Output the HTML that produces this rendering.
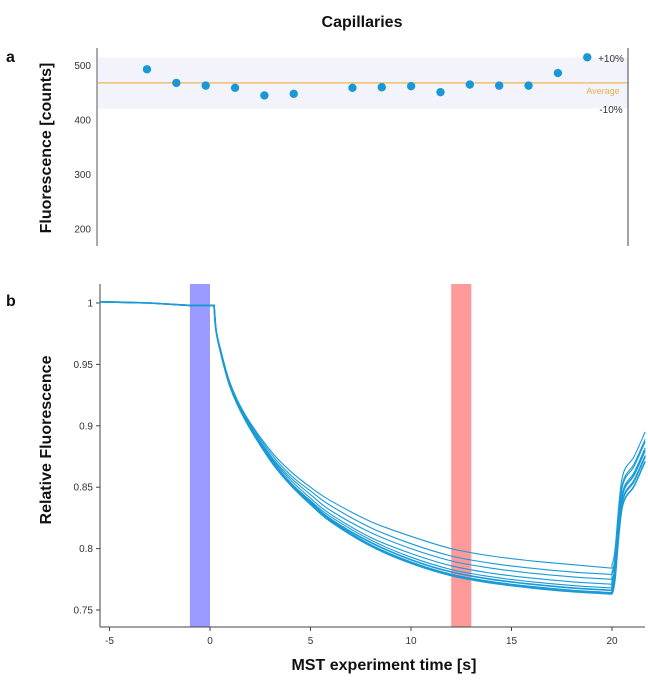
<!DOCTYPE html>
<html><head><meta charset="utf-8"><style>
body{margin:0;background:#fff;}
svg{display:block;font-family:"Liberation Sans",sans-serif;}
.tk{font-size:10px;fill:#333;font-family:"Liberation Sans Narrow","Liberation Sans",sans-serif;}
.ttl{font-size:16px;font-weight:bold;fill:#111;}
</style></head><body>
<svg id="c" width="648" height="685"></svg>
<script>
// Panel a data
const capIndex=[0,1,2,3,4,5,7,8,9,10,11,12,13,14,15];
const capValues=[494,469,464,460,446,449,460,461,463,452,466,464,464,487,516];
const capAverage=469;
const capTicks=[200,300,400,500];
// Panel b data
const timeTicks=[-5,0,5,10,15,20];
const relTicks=[0.75,0.8,0.85,0.9,0.95,1];
const preTimes=[-5.5,-3,-1,0,0.2];
const preValues=[1.001,1.0,0.998,0.998,0.998];
const decayTimes=[0.2,0.3,0.5,1,1.75,3,4,5,6,8,10,12,14,16,18,20];
const trace1=[0.998,0.978,0.962,0.932,0.905,0.872,0.852,0.836,0.822,0.802,0.788,0.778,0.772,0.768,0.765,0.763];
const trace2=[0.998,0.978,0.962,0.932,0.905,0.872,0.852,0.837,0.823,0.803,0.789,0.779,0.773,0.769,0.766,0.764];
const trace3=[0.998,0.978,0.962,0.932,0.905,0.873,0.853,0.838,0.824,0.805,0.791,0.781,0.775,0.771,0.768,0.766];
const trace4=[0.998,0.978,0.962,0.932,0.906,0.874,0.854,0.839,0.826,0.807,0.793,0.783,0.777,0.773,0.770,0.768];
const trace5=[0.998,0.978,0.962,0.933,0.906,0.875,0.856,0.841,0.828,0.809,0.796,0.786,0.780,0.776,0.773,0.771];
const trace6=[0.998,0.978,0.963,0.933,0.907,0.876,0.858,0.844,0.831,0.813,0.800,0.790,0.784,0.780,0.777,0.775];
const trace7=[0.998,0.979,0.963,0.934,0.908,0.878,0.860,0.847,0.835,0.817,0.804,0.794,0.788,0.784,0.781,0.779];
const trace8=[0.998,0.979,0.964,0.935,0.909,0.880,0.863,0.850,0.839,0.822,0.810,0.800,0.794,0.790,0.787,0.784];
const traces=[trace1,trace2,trace3,trace4,trace5,trace6,trace7,trace8];
const recTimes=[20,20.15,20.5,21.1,21.65];
const recOffsets=[0,0.012,0.07,0.088,0.108];

const NS="http://www.w3.org/2000/svg";
const svg=document.getElementById('c');
function mk(tag,attrs,parent){const e=document.createElementNS(NS,tag);for(const k in attrs)e.setAttribute(k,attrs[k]);(parent||svg).appendChild(e);return e;}
function smooth(pts){
  let d='M'+pts[0][0]+','+pts[0][1];
  for(let i=0;i<pts.length-1;i++){
    const p0=pts[Math.max(0,i-1)],p1=pts[i],p2=pts[i+1],p3=pts[Math.min(pts.length-1,i+2)];
    const c1x=p1[0]+(p2[0]-p0[0])/6,c1y=p1[1]+(p2[1]-p0[1])/6;
    const c2x=p2[0]-(p3[0]-p1[0])/6,c2y=p2[1]-(p3[1]-p1[1])/6;
    d+=' C'+c1x.toFixed(1)+','+c1y.toFixed(1)+' '+c2x.toFixed(1)+','+c2y.toFixed(1)+' '+p2[0].toFixed(1)+','+p2[1].toFixed(1);
  }
  return d;
}

// Panel a scales
const ax=i=>147+i*29.35;
const ay=v=>66+(500-v)*0.545;
let t=mk('text',{x:362,y:27,'text-anchor':'middle','class':'ttl','font-size':'15'});t.textContent='Capillaries';

t=mk('text',{x:6,y:62,'class':'ttl','font-size':'14'});t.textContent='a';

let e=mk('rect',{x:98,y:ay(capAverage*1.1),width:530,height:ay(capAverage*0.9)-ay(capAverage*1.1),fill:'#f3f4fb'});

e=mk('line',{x1:98,x2:628,y1:ay(capAverage),y2:ay(capAverage),stroke:'#f0c070','stroke-width':1.5});

e=mk('line',{x1:97,x2:97,y1:48,y2:246,stroke:'#555','stroke-width':1});

e=mk('line',{x1:628,x2:628,y1:48,y2:246,stroke:'#666','stroke-width':1.2});

capTicks.forEach(v=>{const l=mk('text',{x:91,y:ay(v)+3,'text-anchor':'end','class':'tk','font-size':'9'});l.textContent=v;
});
t=mk('text',{x:611,y:62,'text-anchor':'middle','class':'tk','font-size':'8'});t.textContent='+10%';

t=mk('text',{x:603,y:94,'text-anchor':'middle','font-size':'9',fill:'#e8b050'});t.textContent='Average';

t=mk('text',{x:611,y:113,'text-anchor':'middle','class':'tk','font-size':'8'});t.textContent='-10%';

capValues.forEach((v,i)=>{const c=mk('circle',{cx:ax(capIndex[i]),cy:ay(v),r:4.2,fill:'#1a98d5'});
});
t=mk('text',{x:0,y:0,'text-anchor':'middle','class':'ttl','font-size':'17',transform:'translate(51,148) rotate(-90)'});t.textContent='Fluorescence [counts]';


// Panel b scales
const bx=s=>210+s*20.1;
const by=v=>303+(1-v)*1228;
t=mk('text',{x:6,y:306,'class':'ttl','font-size':'14'});t.textContent='b';

e=mk('rect',{x:bx(-1),y:284,width:bx(0)-bx(-1),height:343,fill:'#9a9aff'});

e=mk('rect',{x:bx(12),y:284,width:bx(13)-bx(12),height:343,fill:'#ff9a9a'});

e=mk('line',{x1:100,x2:100,y1:284,y2:627,stroke:'#444','stroke-width':1});

e=mk('line',{x1:100,x2:645,y1:627,y2:627,stroke:'#444','stroke-width':1});

relTicks.forEach(v=>{mk('line',{x1:96,x2:100,y1:by(v),y2:by(v),stroke:'#444'});
const l=mk('text',{x:93,y:by(v)+3.5,'text-anchor':'end','class':'tk'});l.textContent=v;
});
timeTicks.forEach(v=>{mk('line',{x1:bx(v),x2:bx(v),y1:627,y2:631,stroke:'#444'});
const l=mk('text',{x:bx(v),y:644,'text-anchor':'middle','class':'tk'});l.textContent=v;
});
traces.forEach((tr,k)=>{
  const pre=preTimes.map((s,i)=>[bx(s),by(preValues[i])]);
  const dec=decayTimes.map((s,i)=>[bx(s),by(tr[i])]);
  const rec=recTimes.map((s,i)=>[bx(s),by(tr[tr.length-1]+recOffsets[i]+(k%3)*0.003)]);
  const d='M'+pre.map(q=>q.join(',')).join(' L')+' '+smooth(dec).replace(/^M/,'L')+' '+smooth(rec).replace(/^M/,'L');
  const p=mk('path',{d:d,fill:'none',stroke:'#1a9ad6','stroke-width':k<3?1.6:1.1});
  
});
t=mk('text',{x:0,y:0,'text-anchor':'middle','class':'ttl','font-size':'17',transform:'translate(51,440) rotate(-90)'});t.textContent='Relative Fluorescence';

t=mk('text',{x:384,y:670,'text-anchor':'middle','class':'ttl'});t.textContent='MST experiment time [s]';

</script>
</body></html>
